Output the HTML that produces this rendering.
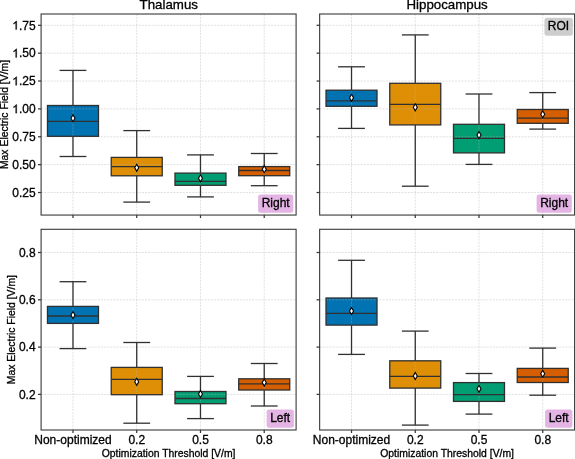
<!DOCTYPE html>
<html><head><meta charset="utf-8"><title>Boxplots</title>
<style>html,body{margin:0;padding:0;background:#fff;}body{width:575px;height:459px;overflow:hidden;font-family:"Liberation Sans", sans-serif;}svg{display:block;will-change:transform;}</style>
</head><body>
<svg width="575" height="459" viewBox="0 0 575 459" font-family='"Liberation Sans", sans-serif'>
<rect width="575" height="459" fill="#fff"/>
<style>text{stroke:#000;stroke-width:0.3;}</style>
<rect x="47.48" y="105.50" width="51.00" height="30.80" fill="#0173b2"/>
<rect x="111.23" y="157.40" width="51.00" height="18.40" fill="#de8f05"/>
<rect x="174.98" y="173.10" width="51.00" height="12.20" fill="#029e73"/>
<rect x="238.73" y="166.60" width="51.00" height="9.10" fill="#d55e00"/>
<line x1="41.10" y1="25.30" x2="296.10" y2="25.30" stroke="#b4b4b4" stroke-opacity="0.5" stroke-width="0.8" stroke-dasharray="2.05,1.1"/>
<line x1="41.10" y1="53.17" x2="296.10" y2="53.17" stroke="#b4b4b4" stroke-opacity="0.5" stroke-width="0.8" stroke-dasharray="2.05,1.1"/>
<line x1="41.10" y1="81.04" x2="296.10" y2="81.04" stroke="#b4b4b4" stroke-opacity="0.5" stroke-width="0.8" stroke-dasharray="2.05,1.1"/>
<line x1="41.10" y1="108.91" x2="296.10" y2="108.91" stroke="#b4b4b4" stroke-opacity="0.5" stroke-width="0.8" stroke-dasharray="2.05,1.1"/>
<line x1="41.10" y1="136.78" x2="296.10" y2="136.78" stroke="#b4b4b4" stroke-opacity="0.5" stroke-width="0.8" stroke-dasharray="2.05,1.1"/>
<line x1="41.10" y1="164.65" x2="296.10" y2="164.65" stroke="#b4b4b4" stroke-opacity="0.5" stroke-width="0.8" stroke-dasharray="2.05,1.1"/>
<line x1="41.10" y1="192.52" x2="296.10" y2="192.52" stroke="#b4b4b4" stroke-opacity="0.5" stroke-width="0.8" stroke-dasharray="2.05,1.1"/>
<line x1="72.98" y1="14.00" x2="72.98" y2="215.05" stroke="#b4b4b4" stroke-opacity="0.5" stroke-width="0.8" stroke-dasharray="2.05,1.1"/>
<line x1="136.73" y1="14.00" x2="136.73" y2="215.05" stroke="#b4b4b4" stroke-opacity="0.5" stroke-width="0.8" stroke-dasharray="2.05,1.1"/>
<line x1="200.48" y1="14.00" x2="200.48" y2="215.05" stroke="#b4b4b4" stroke-opacity="0.5" stroke-width="0.8" stroke-dasharray="2.05,1.1"/>
<line x1="264.23" y1="14.00" x2="264.23" y2="215.05" stroke="#b4b4b4" stroke-opacity="0.5" stroke-width="0.8" stroke-dasharray="2.05,1.1"/>
<rect x="47.48" y="105.50" width="51.00" height="30.80" fill="none" stroke="#303030" stroke-width="1.3"/>
<line x1="72.98" y1="105.50" x2="72.98" y2="70.40" stroke="#303030" stroke-width="1.3"/>
<line x1="72.98" y1="136.30" x2="72.98" y2="156.50" stroke="#303030" stroke-width="1.3"/>
<line x1="60.23" y1="70.40" x2="85.73" y2="70.40" stroke="#303030" stroke-width="1.3" stroke-linecap="square"/>
<line x1="60.23" y1="156.50" x2="85.73" y2="156.50" stroke="#303030" stroke-width="1.3" stroke-linecap="square"/>
<line x1="47.48" y1="121.30" x2="98.48" y2="121.30" stroke="#303030" stroke-width="1.3"/>
<path d="M72.98,114.65 L74.98,118.20 L72.98,121.75 L70.98,118.20 Z" fill="#fff" stroke="#000" stroke-width="1.1"/>
<rect x="111.23" y="157.40" width="51.00" height="18.40" fill="none" stroke="#303030" stroke-width="1.3"/>
<line x1="136.73" y1="157.40" x2="136.73" y2="130.60" stroke="#303030" stroke-width="1.3"/>
<line x1="136.73" y1="175.80" x2="136.73" y2="202.10" stroke="#303030" stroke-width="1.3"/>
<line x1="123.98" y1="130.60" x2="149.48" y2="130.60" stroke="#303030" stroke-width="1.3" stroke-linecap="square"/>
<line x1="123.98" y1="202.10" x2="149.48" y2="202.10" stroke="#303030" stroke-width="1.3" stroke-linecap="square"/>
<line x1="111.23" y1="166.60" x2="162.23" y2="166.60" stroke="#303030" stroke-width="1.3"/>
<path d="M136.73,164.25 L138.73,167.80 L136.73,171.35 L134.73,167.80 Z" fill="#fff" stroke="#000" stroke-width="1.1"/>
<rect x="174.98" y="173.10" width="51.00" height="12.20" fill="none" stroke="#303030" stroke-width="1.3"/>
<line x1="200.48" y1="173.10" x2="200.48" y2="154.90" stroke="#303030" stroke-width="1.3"/>
<line x1="200.48" y1="185.30" x2="200.48" y2="196.90" stroke="#303030" stroke-width="1.3"/>
<line x1="187.73" y1="154.90" x2="213.23" y2="154.90" stroke="#303030" stroke-width="1.3" stroke-linecap="square"/>
<line x1="187.73" y1="196.90" x2="213.23" y2="196.90" stroke="#303030" stroke-width="1.3" stroke-linecap="square"/>
<line x1="174.98" y1="181.30" x2="225.98" y2="181.30" stroke="#303030" stroke-width="1.3"/>
<path d="M200.48,174.75 L202.48,178.30 L200.48,181.85 L198.48,178.30 Z" fill="#fff" stroke="#000" stroke-width="1.1"/>
<rect x="238.73" y="166.60" width="51.00" height="9.10" fill="none" stroke="#303030" stroke-width="1.3"/>
<line x1="264.23" y1="166.60" x2="264.23" y2="153.50" stroke="#303030" stroke-width="1.3"/>
<line x1="264.23" y1="175.70" x2="264.23" y2="185.70" stroke="#303030" stroke-width="1.3"/>
<line x1="251.48" y1="153.50" x2="276.98" y2="153.50" stroke="#303030" stroke-width="1.3" stroke-linecap="square"/>
<line x1="251.48" y1="185.70" x2="276.98" y2="185.70" stroke="#303030" stroke-width="1.3" stroke-linecap="square"/>
<line x1="238.73" y1="170.50" x2="289.73" y2="170.50" stroke="#303030" stroke-width="1.3"/>
<path d="M264.23,165.65 L266.23,169.20 L264.23,172.75 L262.23,169.20 Z" fill="#fff" stroke="#000" stroke-width="1.1"/>
<rect x="41.1" y="14.0" width="255.00" height="201.05" fill="none" stroke="#383838" stroke-width="1.1"/>
<line x1="38.00" y1="25.30" x2="41.10" y2="25.30" stroke="#383838" stroke-width="1.25"/>
<line x1="38.00" y1="53.17" x2="41.10" y2="53.17" stroke="#383838" stroke-width="1.25"/>
<line x1="38.00" y1="81.04" x2="41.10" y2="81.04" stroke="#383838" stroke-width="1.25"/>
<line x1="38.00" y1="108.91" x2="41.10" y2="108.91" stroke="#383838" stroke-width="1.25"/>
<line x1="38.00" y1="136.78" x2="41.10" y2="136.78" stroke="#383838" stroke-width="1.25"/>
<line x1="38.00" y1="164.65" x2="41.10" y2="164.65" stroke="#383838" stroke-width="1.25"/>
<line x1="38.00" y1="192.52" x2="41.10" y2="192.52" stroke="#383838" stroke-width="1.25"/>
<line x1="72.98" y1="215.05" x2="72.98" y2="218.05" stroke="#383838" stroke-width="1.25"/>
<line x1="136.73" y1="215.05" x2="136.73" y2="218.05" stroke="#383838" stroke-width="1.25"/>
<line x1="200.48" y1="215.05" x2="200.48" y2="218.05" stroke="#383838" stroke-width="1.25"/>
<line x1="264.23" y1="215.05" x2="264.23" y2="218.05" stroke="#383838" stroke-width="1.25"/>
<path d="M763 0H583V1147Q518 1085 412.5 1023T222 930V1104Q373 1175 486 1276T646 1472H763V0Z" transform="translate(12.245,29.60) scale(0.005859,-0.005859)" fill="#000" stroke="#000" stroke-width="0.3" vector-effect="non-scaling-stroke"/>
<text x="35.6" y="29.60" font-size="12" text-anchor="end" fill="#000">.75</text>
<path d="M763 0H583V1147Q518 1085 412.5 1023T222 930V1104Q373 1175 486 1276T646 1472H763V0Z" transform="translate(12.245,57.47) scale(0.005859,-0.005859)" fill="#000" stroke="#000" stroke-width="0.3" vector-effect="non-scaling-stroke"/>
<text x="35.6" y="57.47" font-size="12" text-anchor="end" fill="#000">.50</text>
<path d="M763 0H583V1147Q518 1085 412.5 1023T222 930V1104Q373 1175 486 1276T646 1472H763V0Z" transform="translate(12.245,85.34) scale(0.005859,-0.005859)" fill="#000" stroke="#000" stroke-width="0.3" vector-effect="non-scaling-stroke"/>
<text x="35.6" y="85.34" font-size="12" text-anchor="end" fill="#000">.25</text>
<path d="M763 0H583V1147Q518 1085 412.5 1023T222 930V1104Q373 1175 486 1276T646 1472H763V0Z" transform="translate(12.245,113.21) scale(0.005859,-0.005859)" fill="#000" stroke="#000" stroke-width="0.3" vector-effect="non-scaling-stroke"/>
<text x="35.6" y="113.21" font-size="12" text-anchor="end" fill="#000">.00</text>
<text x="35.6" y="141.08" font-size="12" text-anchor="end" fill="#000">0.75</text>
<text x="35.6" y="168.95" font-size="12" text-anchor="end" fill="#000">0.50</text>
<text x="35.6" y="196.82" font-size="12" text-anchor="end" fill="#000">0.25</text>
<rect x="258.10" y="194.6" width="35.2" height="18.1" rx="2.5" fill="#dda0dd" fill-opacity="0.78"/>
<text x="275.70" y="206.7" font-size="12" text-anchor="middle" fill="#000">Right</text>
<rect x="326.02" y="90.20" width="50.99" height="16.10" fill="#0173b2"/>
<rect x="389.76" y="83.30" width="50.99" height="41.60" fill="#de8f05"/>
<rect x="453.50" y="124.30" width="50.99" height="28.60" fill="#029e73"/>
<rect x="517.24" y="109.50" width="50.99" height="13.80" fill="#d55e00"/>
<line x1="319.65" y1="25.30" x2="574.60" y2="25.30" stroke="#b4b4b4" stroke-opacity="0.5" stroke-width="0.8" stroke-dasharray="2.05,1.1"/>
<line x1="319.65" y1="53.17" x2="574.60" y2="53.17" stroke="#b4b4b4" stroke-opacity="0.5" stroke-width="0.8" stroke-dasharray="2.05,1.1"/>
<line x1="319.65" y1="81.04" x2="574.60" y2="81.04" stroke="#b4b4b4" stroke-opacity="0.5" stroke-width="0.8" stroke-dasharray="2.05,1.1"/>
<line x1="319.65" y1="108.91" x2="574.60" y2="108.91" stroke="#b4b4b4" stroke-opacity="0.5" stroke-width="0.8" stroke-dasharray="2.05,1.1"/>
<line x1="319.65" y1="136.78" x2="574.60" y2="136.78" stroke="#b4b4b4" stroke-opacity="0.5" stroke-width="0.8" stroke-dasharray="2.05,1.1"/>
<line x1="319.65" y1="164.65" x2="574.60" y2="164.65" stroke="#b4b4b4" stroke-opacity="0.5" stroke-width="0.8" stroke-dasharray="2.05,1.1"/>
<line x1="319.65" y1="192.52" x2="574.60" y2="192.52" stroke="#b4b4b4" stroke-opacity="0.5" stroke-width="0.8" stroke-dasharray="2.05,1.1"/>
<line x1="351.52" y1="14.00" x2="351.52" y2="215.05" stroke="#b4b4b4" stroke-opacity="0.5" stroke-width="0.8" stroke-dasharray="2.05,1.1"/>
<line x1="415.26" y1="14.00" x2="415.26" y2="215.05" stroke="#b4b4b4" stroke-opacity="0.5" stroke-width="0.8" stroke-dasharray="2.05,1.1"/>
<line x1="478.99" y1="14.00" x2="478.99" y2="215.05" stroke="#b4b4b4" stroke-opacity="0.5" stroke-width="0.8" stroke-dasharray="2.05,1.1"/>
<line x1="542.73" y1="14.00" x2="542.73" y2="215.05" stroke="#b4b4b4" stroke-opacity="0.5" stroke-width="0.8" stroke-dasharray="2.05,1.1"/>
<rect x="326.02" y="90.20" width="50.99" height="16.10" fill="none" stroke="#303030" stroke-width="1.3"/>
<line x1="351.52" y1="90.20" x2="351.52" y2="66.80" stroke="#303030" stroke-width="1.3"/>
<line x1="351.52" y1="106.30" x2="351.52" y2="128.40" stroke="#303030" stroke-width="1.3"/>
<line x1="338.77" y1="66.80" x2="364.27" y2="66.80" stroke="#303030" stroke-width="1.3" stroke-linecap="square"/>
<line x1="338.77" y1="128.40" x2="364.27" y2="128.40" stroke="#303030" stroke-width="1.3" stroke-linecap="square"/>
<line x1="326.02" y1="100.80" x2="377.01" y2="100.80" stroke="#303030" stroke-width="1.3"/>
<path d="M351.52,94.25 L353.52,97.80 L351.52,101.35 L349.52,97.80 Z" fill="#fff" stroke="#000" stroke-width="1.1"/>
<rect x="389.76" y="83.30" width="50.99" height="41.60" fill="none" stroke="#303030" stroke-width="1.3"/>
<line x1="415.26" y1="83.30" x2="415.26" y2="34.90" stroke="#303030" stroke-width="1.3"/>
<line x1="415.26" y1="124.90" x2="415.26" y2="186.20" stroke="#303030" stroke-width="1.3"/>
<line x1="402.51" y1="34.90" x2="428.00" y2="34.90" stroke="#303030" stroke-width="1.3" stroke-linecap="square"/>
<line x1="402.51" y1="186.20" x2="428.00" y2="186.20" stroke="#303030" stroke-width="1.3" stroke-linecap="square"/>
<line x1="389.76" y1="104.30" x2="440.75" y2="104.30" stroke="#303030" stroke-width="1.3"/>
<path d="M415.26,103.75 L417.26,107.30 L415.26,110.85 L413.26,107.30 Z" fill="#fff" stroke="#000" stroke-width="1.1"/>
<rect x="453.50" y="124.30" width="50.99" height="28.60" fill="none" stroke="#303030" stroke-width="1.3"/>
<line x1="478.99" y1="124.30" x2="478.99" y2="94.00" stroke="#303030" stroke-width="1.3"/>
<line x1="478.99" y1="152.90" x2="478.99" y2="164.40" stroke="#303030" stroke-width="1.3"/>
<line x1="466.25" y1="94.00" x2="491.74" y2="94.00" stroke="#303030" stroke-width="1.3" stroke-linecap="square"/>
<line x1="466.25" y1="164.40" x2="491.74" y2="164.40" stroke="#303030" stroke-width="1.3" stroke-linecap="square"/>
<line x1="453.50" y1="138.30" x2="504.49" y2="138.30" stroke="#303030" stroke-width="1.3"/>
<path d="M478.99,131.55 L480.99,135.10 L478.99,138.65 L476.99,135.10 Z" fill="#fff" stroke="#000" stroke-width="1.1"/>
<rect x="517.24" y="109.50" width="50.99" height="13.80" fill="none" stroke="#303030" stroke-width="1.3"/>
<line x1="542.73" y1="109.50" x2="542.73" y2="92.60" stroke="#303030" stroke-width="1.3"/>
<line x1="542.73" y1="123.30" x2="542.73" y2="129.10" stroke="#303030" stroke-width="1.3"/>
<line x1="529.98" y1="92.60" x2="555.48" y2="92.60" stroke="#303030" stroke-width="1.3" stroke-linecap="square"/>
<line x1="529.98" y1="129.10" x2="555.48" y2="129.10" stroke="#303030" stroke-width="1.3" stroke-linecap="square"/>
<line x1="517.24" y1="118.20" x2="568.23" y2="118.20" stroke="#303030" stroke-width="1.3"/>
<path d="M542.73,110.65 L544.73,114.20 L542.73,117.75 L540.73,114.20 Z" fill="#fff" stroke="#000" stroke-width="1.1"/>
<rect x="319.65" y="14.0" width="254.95" height="201.05" fill="none" stroke="#383838" stroke-width="1.1"/>
<line x1="316.55" y1="25.30" x2="319.65" y2="25.30" stroke="#383838" stroke-width="1.25"/>
<line x1="316.55" y1="53.17" x2="319.65" y2="53.17" stroke="#383838" stroke-width="1.25"/>
<line x1="316.55" y1="81.04" x2="319.65" y2="81.04" stroke="#383838" stroke-width="1.25"/>
<line x1="316.55" y1="108.91" x2="319.65" y2="108.91" stroke="#383838" stroke-width="1.25"/>
<line x1="316.55" y1="136.78" x2="319.65" y2="136.78" stroke="#383838" stroke-width="1.25"/>
<line x1="316.55" y1="164.65" x2="319.65" y2="164.65" stroke="#383838" stroke-width="1.25"/>
<line x1="316.55" y1="192.52" x2="319.65" y2="192.52" stroke="#383838" stroke-width="1.25"/>
<line x1="351.52" y1="215.05" x2="351.52" y2="218.05" stroke="#383838" stroke-width="1.25"/>
<line x1="415.26" y1="215.05" x2="415.26" y2="218.05" stroke="#383838" stroke-width="1.25"/>
<line x1="478.99" y1="215.05" x2="478.99" y2="218.05" stroke="#383838" stroke-width="1.25"/>
<line x1="542.73" y1="215.05" x2="542.73" y2="218.05" stroke="#383838" stroke-width="1.25"/>
<rect x="536.60" y="194.6" width="35.2" height="18.1" rx="2.5" fill="#dda0dd" fill-opacity="0.78"/>
<text x="554.20" y="206.7" font-size="12" text-anchor="middle" fill="#000">Right</text>
<rect x="47.48" y="306.40" width="51.00" height="17.00" fill="#0173b2"/>
<rect x="111.23" y="367.40" width="51.00" height="27.30" fill="#de8f05"/>
<rect x="174.98" y="391.50" width="51.00" height="12.20" fill="#029e73"/>
<rect x="238.73" y="378.80" width="51.00" height="11.20" fill="#d55e00"/>
<line x1="41.10" y1="252.50" x2="296.10" y2="252.50" stroke="#b4b4b4" stroke-opacity="0.5" stroke-width="0.8" stroke-dasharray="2.05,1.1"/>
<line x1="41.10" y1="299.80" x2="296.10" y2="299.80" stroke="#b4b4b4" stroke-opacity="0.5" stroke-width="0.8" stroke-dasharray="2.05,1.1"/>
<line x1="41.10" y1="347.10" x2="296.10" y2="347.10" stroke="#b4b4b4" stroke-opacity="0.5" stroke-width="0.8" stroke-dasharray="2.05,1.1"/>
<line x1="41.10" y1="394.40" x2="296.10" y2="394.40" stroke="#b4b4b4" stroke-opacity="0.5" stroke-width="0.8" stroke-dasharray="2.05,1.1"/>
<line x1="72.98" y1="229.30" x2="72.98" y2="430.00" stroke="#b4b4b4" stroke-opacity="0.5" stroke-width="0.8" stroke-dasharray="2.05,1.1"/>
<line x1="136.73" y1="229.30" x2="136.73" y2="430.00" stroke="#b4b4b4" stroke-opacity="0.5" stroke-width="0.8" stroke-dasharray="2.05,1.1"/>
<line x1="200.48" y1="229.30" x2="200.48" y2="430.00" stroke="#b4b4b4" stroke-opacity="0.5" stroke-width="0.8" stroke-dasharray="2.05,1.1"/>
<line x1="264.23" y1="229.30" x2="264.23" y2="430.00" stroke="#b4b4b4" stroke-opacity="0.5" stroke-width="0.8" stroke-dasharray="2.05,1.1"/>
<rect x="47.48" y="306.40" width="51.00" height="17.00" fill="none" stroke="#303030" stroke-width="1.3"/>
<line x1="72.98" y1="306.40" x2="72.98" y2="281.70" stroke="#303030" stroke-width="1.3"/>
<line x1="72.98" y1="323.40" x2="72.98" y2="348.60" stroke="#303030" stroke-width="1.3"/>
<line x1="60.23" y1="281.70" x2="85.73" y2="281.70" stroke="#303030" stroke-width="1.3" stroke-linecap="square"/>
<line x1="60.23" y1="348.60" x2="85.73" y2="348.60" stroke="#303030" stroke-width="1.3" stroke-linecap="square"/>
<line x1="47.48" y1="316.00" x2="98.48" y2="316.00" stroke="#303030" stroke-width="1.3"/>
<path d="M72.98,311.55 L74.98,315.10 L72.98,318.65 L70.98,315.10 Z" fill="#fff" stroke="#000" stroke-width="1.1"/>
<rect x="111.23" y="367.40" width="51.00" height="27.30" fill="none" stroke="#303030" stroke-width="1.3"/>
<line x1="136.73" y1="367.40" x2="136.73" y2="342.50" stroke="#303030" stroke-width="1.3"/>
<line x1="136.73" y1="394.70" x2="136.73" y2="423.20" stroke="#303030" stroke-width="1.3"/>
<line x1="123.98" y1="342.50" x2="149.48" y2="342.50" stroke="#303030" stroke-width="1.3" stroke-linecap="square"/>
<line x1="123.98" y1="423.20" x2="149.48" y2="423.20" stroke="#303030" stroke-width="1.3" stroke-linecap="square"/>
<line x1="111.23" y1="379.40" x2="162.23" y2="379.40" stroke="#303030" stroke-width="1.3"/>
<path d="M136.73,378.25 L138.73,381.80 L136.73,385.35 L134.73,381.80 Z" fill="#fff" stroke="#000" stroke-width="1.1"/>
<rect x="174.98" y="391.50" width="51.00" height="12.20" fill="none" stroke="#303030" stroke-width="1.3"/>
<line x1="200.48" y1="391.50" x2="200.48" y2="376.40" stroke="#303030" stroke-width="1.3"/>
<line x1="200.48" y1="403.70" x2="200.48" y2="418.60" stroke="#303030" stroke-width="1.3"/>
<line x1="187.73" y1="376.40" x2="213.23" y2="376.40" stroke="#303030" stroke-width="1.3" stroke-linecap="square"/>
<line x1="187.73" y1="418.60" x2="213.23" y2="418.60" stroke="#303030" stroke-width="1.3" stroke-linecap="square"/>
<line x1="174.98" y1="398.50" x2="225.98" y2="398.50" stroke="#303030" stroke-width="1.3"/>
<path d="M200.48,390.45 L202.48,394.00 L200.48,397.55 L198.48,394.00 Z" fill="#fff" stroke="#000" stroke-width="1.1"/>
<rect x="238.73" y="378.80" width="51.00" height="11.20" fill="none" stroke="#303030" stroke-width="1.3"/>
<line x1="264.23" y1="378.80" x2="264.23" y2="363.50" stroke="#303030" stroke-width="1.3"/>
<line x1="264.23" y1="390.00" x2="264.23" y2="406.00" stroke="#303030" stroke-width="1.3"/>
<line x1="251.48" y1="363.50" x2="276.98" y2="363.50" stroke="#303030" stroke-width="1.3" stroke-linecap="square"/>
<line x1="251.48" y1="406.00" x2="276.98" y2="406.00" stroke="#303030" stroke-width="1.3" stroke-linecap="square"/>
<line x1="238.73" y1="383.80" x2="289.73" y2="383.80" stroke="#303030" stroke-width="1.3"/>
<path d="M264.23,378.95 L266.23,382.50 L264.23,386.05 L262.23,382.50 Z" fill="#fff" stroke="#000" stroke-width="1.1"/>
<rect x="41.1" y="229.3" width="255.00" height="200.70" fill="none" stroke="#383838" stroke-width="1.1"/>
<line x1="38.00" y1="252.50" x2="41.10" y2="252.50" stroke="#383838" stroke-width="1.25"/>
<line x1="38.00" y1="299.80" x2="41.10" y2="299.80" stroke="#383838" stroke-width="1.25"/>
<line x1="38.00" y1="347.10" x2="41.10" y2="347.10" stroke="#383838" stroke-width="1.25"/>
<line x1="38.00" y1="394.40" x2="41.10" y2="394.40" stroke="#383838" stroke-width="1.25"/>
<line x1="72.98" y1="430.00" x2="72.98" y2="433.00" stroke="#383838" stroke-width="1.25"/>
<line x1="136.73" y1="430.00" x2="136.73" y2="433.00" stroke="#383838" stroke-width="1.25"/>
<line x1="200.48" y1="430.00" x2="200.48" y2="433.00" stroke="#383838" stroke-width="1.25"/>
<line x1="264.23" y1="430.00" x2="264.23" y2="433.00" stroke="#383838" stroke-width="1.25"/>
<text x="35.6" y="256.80" font-size="12" text-anchor="end" fill="#000">0.8</text>
<text x="35.6" y="304.10" font-size="12" text-anchor="end" fill="#000">0.6</text>
<text x="35.6" y="351.40" font-size="12" text-anchor="end" fill="#000">0.4</text>
<text x="35.6" y="398.70" font-size="12" text-anchor="end" fill="#000">0.2</text>
<text x="72.98" y="443.8" font-size="12" text-anchor="middle" fill="#000">Non-optimized</text>
<text x="136.73" y="443.8" font-size="12" text-anchor="middle" fill="#000">0.2</text>
<text x="200.48" y="443.8" font-size="12" text-anchor="middle" fill="#000">0.5</text>
<text x="264.23" y="443.8" font-size="12" text-anchor="middle" fill="#000">0.8</text>
<text x="168.60" y="456.6" font-size="10.4" text-anchor="middle" fill="#000">Optimization Threshold [V/m]</text>
<rect x="266.60" y="409.45" width="27.3" height="18.35" rx="2.5" fill="#dda0dd" fill-opacity="0.78"/>
<text x="280.20" y="421.5" font-size="12" text-anchor="middle" fill="#000">Left</text>
<rect x="326.02" y="298.00" width="50.99" height="27.10" fill="#0173b2"/>
<rect x="389.76" y="360.80" width="50.99" height="27.30" fill="#de8f05"/>
<rect x="453.50" y="382.60" width="50.99" height="18.80" fill="#029e73"/>
<rect x="517.24" y="368.40" width="50.99" height="14.10" fill="#d55e00"/>
<line x1="319.65" y1="252.50" x2="574.60" y2="252.50" stroke="#b4b4b4" stroke-opacity="0.5" stroke-width="0.8" stroke-dasharray="2.05,1.1"/>
<line x1="319.65" y1="299.80" x2="574.60" y2="299.80" stroke="#b4b4b4" stroke-opacity="0.5" stroke-width="0.8" stroke-dasharray="2.05,1.1"/>
<line x1="319.65" y1="347.10" x2="574.60" y2="347.10" stroke="#b4b4b4" stroke-opacity="0.5" stroke-width="0.8" stroke-dasharray="2.05,1.1"/>
<line x1="319.65" y1="394.40" x2="574.60" y2="394.40" stroke="#b4b4b4" stroke-opacity="0.5" stroke-width="0.8" stroke-dasharray="2.05,1.1"/>
<line x1="351.52" y1="229.30" x2="351.52" y2="430.00" stroke="#b4b4b4" stroke-opacity="0.5" stroke-width="0.8" stroke-dasharray="2.05,1.1"/>
<line x1="415.26" y1="229.30" x2="415.26" y2="430.00" stroke="#b4b4b4" stroke-opacity="0.5" stroke-width="0.8" stroke-dasharray="2.05,1.1"/>
<line x1="478.99" y1="229.30" x2="478.99" y2="430.00" stroke="#b4b4b4" stroke-opacity="0.5" stroke-width="0.8" stroke-dasharray="2.05,1.1"/>
<line x1="542.73" y1="229.30" x2="542.73" y2="430.00" stroke="#b4b4b4" stroke-opacity="0.5" stroke-width="0.8" stroke-dasharray="2.05,1.1"/>
<rect x="326.02" y="298.00" width="50.99" height="27.10" fill="none" stroke="#303030" stroke-width="1.3"/>
<line x1="351.52" y1="298.00" x2="351.52" y2="260.30" stroke="#303030" stroke-width="1.3"/>
<line x1="351.52" y1="325.10" x2="351.52" y2="354.40" stroke="#303030" stroke-width="1.3"/>
<line x1="338.77" y1="260.30" x2="364.27" y2="260.30" stroke="#303030" stroke-width="1.3" stroke-linecap="square"/>
<line x1="338.77" y1="354.40" x2="364.27" y2="354.40" stroke="#303030" stroke-width="1.3" stroke-linecap="square"/>
<line x1="326.02" y1="313.40" x2="377.01" y2="313.40" stroke="#303030" stroke-width="1.3"/>
<path d="M351.52,307.45 L353.52,311.00 L351.52,314.55 L349.52,311.00 Z" fill="#fff" stroke="#000" stroke-width="1.1"/>
<rect x="389.76" y="360.80" width="50.99" height="27.30" fill="none" stroke="#303030" stroke-width="1.3"/>
<line x1="415.26" y1="360.80" x2="415.26" y2="331.10" stroke="#303030" stroke-width="1.3"/>
<line x1="415.26" y1="388.10" x2="415.26" y2="425.10" stroke="#303030" stroke-width="1.3"/>
<line x1="402.51" y1="331.10" x2="428.00" y2="331.10" stroke="#303030" stroke-width="1.3" stroke-linecap="square"/>
<line x1="402.51" y1="425.10" x2="428.00" y2="425.10" stroke="#303030" stroke-width="1.3" stroke-linecap="square"/>
<line x1="389.76" y1="376.40" x2="440.75" y2="376.40" stroke="#303030" stroke-width="1.3"/>
<path d="M415.26,372.45 L417.26,376.00 L415.26,379.55 L413.26,376.00 Z" fill="#fff" stroke="#000" stroke-width="1.1"/>
<rect x="453.50" y="382.60" width="50.99" height="18.80" fill="none" stroke="#303030" stroke-width="1.3"/>
<line x1="478.99" y1="382.60" x2="478.99" y2="373.50" stroke="#303030" stroke-width="1.3"/>
<line x1="478.99" y1="401.40" x2="478.99" y2="414.10" stroke="#303030" stroke-width="1.3"/>
<line x1="466.25" y1="373.50" x2="491.74" y2="373.50" stroke="#303030" stroke-width="1.3" stroke-linecap="square"/>
<line x1="466.25" y1="414.10" x2="491.74" y2="414.10" stroke="#303030" stroke-width="1.3" stroke-linecap="square"/>
<line x1="453.50" y1="394.60" x2="504.49" y2="394.60" stroke="#303030" stroke-width="1.3"/>
<path d="M478.99,385.25 L480.99,388.80 L478.99,392.35 L476.99,388.80 Z" fill="#fff" stroke="#000" stroke-width="1.1"/>
<rect x="517.24" y="368.40" width="50.99" height="14.10" fill="none" stroke="#303030" stroke-width="1.3"/>
<line x1="542.73" y1="368.40" x2="542.73" y2="348.10" stroke="#303030" stroke-width="1.3"/>
<line x1="542.73" y1="382.50" x2="542.73" y2="395.20" stroke="#303030" stroke-width="1.3"/>
<line x1="529.98" y1="348.10" x2="555.48" y2="348.10" stroke="#303030" stroke-width="1.3" stroke-linecap="square"/>
<line x1="529.98" y1="395.20" x2="555.48" y2="395.20" stroke="#303030" stroke-width="1.3" stroke-linecap="square"/>
<line x1="517.24" y1="377.00" x2="568.23" y2="377.00" stroke="#303030" stroke-width="1.3"/>
<path d="M542.73,370.15 L544.73,373.70 L542.73,377.25 L540.73,373.70 Z" fill="#fff" stroke="#000" stroke-width="1.1"/>
<rect x="319.65" y="229.3" width="254.95" height="200.70" fill="none" stroke="#383838" stroke-width="1.1"/>
<line x1="316.55" y1="252.50" x2="319.65" y2="252.50" stroke="#383838" stroke-width="1.25"/>
<line x1="316.55" y1="299.80" x2="319.65" y2="299.80" stroke="#383838" stroke-width="1.25"/>
<line x1="316.55" y1="347.10" x2="319.65" y2="347.10" stroke="#383838" stroke-width="1.25"/>
<line x1="316.55" y1="394.40" x2="319.65" y2="394.40" stroke="#383838" stroke-width="1.25"/>
<line x1="351.52" y1="430.00" x2="351.52" y2="433.00" stroke="#383838" stroke-width="1.25"/>
<line x1="415.26" y1="430.00" x2="415.26" y2="433.00" stroke="#383838" stroke-width="1.25"/>
<line x1="478.99" y1="430.00" x2="478.99" y2="433.00" stroke="#383838" stroke-width="1.25"/>
<line x1="542.73" y1="430.00" x2="542.73" y2="433.00" stroke="#383838" stroke-width="1.25"/>
<text x="351.52" y="443.8" font-size="12" text-anchor="middle" fill="#000">Non-optimized</text>
<text x="415.26" y="443.8" font-size="12" text-anchor="middle" fill="#000">0.2</text>
<text x="478.99" y="443.8" font-size="12" text-anchor="middle" fill="#000">0.5</text>
<text x="542.73" y="443.8" font-size="12" text-anchor="middle" fill="#000">0.8</text>
<text x="447.12" y="456.6" font-size="10.4" text-anchor="middle" fill="#000">Optimization Threshold [V/m]</text>
<rect x="545.10" y="409.45" width="27.3" height="18.35" rx="2.5" fill="#dda0dd" fill-opacity="0.78"/>
<text x="558.70" y="421.5" font-size="12" text-anchor="middle" fill="#000">Left</text>
<rect x="544.45" y="17.85" width="28.4" height="17.9" rx="2.5" fill="#c0c0c0" fill-opacity="0.8"/>
<text x="558.5" y="30.0" font-size="12" text-anchor="middle" fill="#000">ROI</text>
<text x="168.75" y="9.45" font-size="13.3" text-anchor="middle" fill="#000">Thalamus</text>
<text x="447.1" y="9.45" font-size="13.3" text-anchor="middle" fill="#000">Hippocampus</text>
<text transform="translate(7.7,114.5) rotate(-90)" font-size="10.4" text-anchor="middle" fill="#000">Max Electric Field [V/m]</text>
<text transform="translate(14.7,329.6) rotate(-90)" font-size="10.4" text-anchor="middle" fill="#000">Max Electric Field [V/m]</text>
</svg>
</body></html>
